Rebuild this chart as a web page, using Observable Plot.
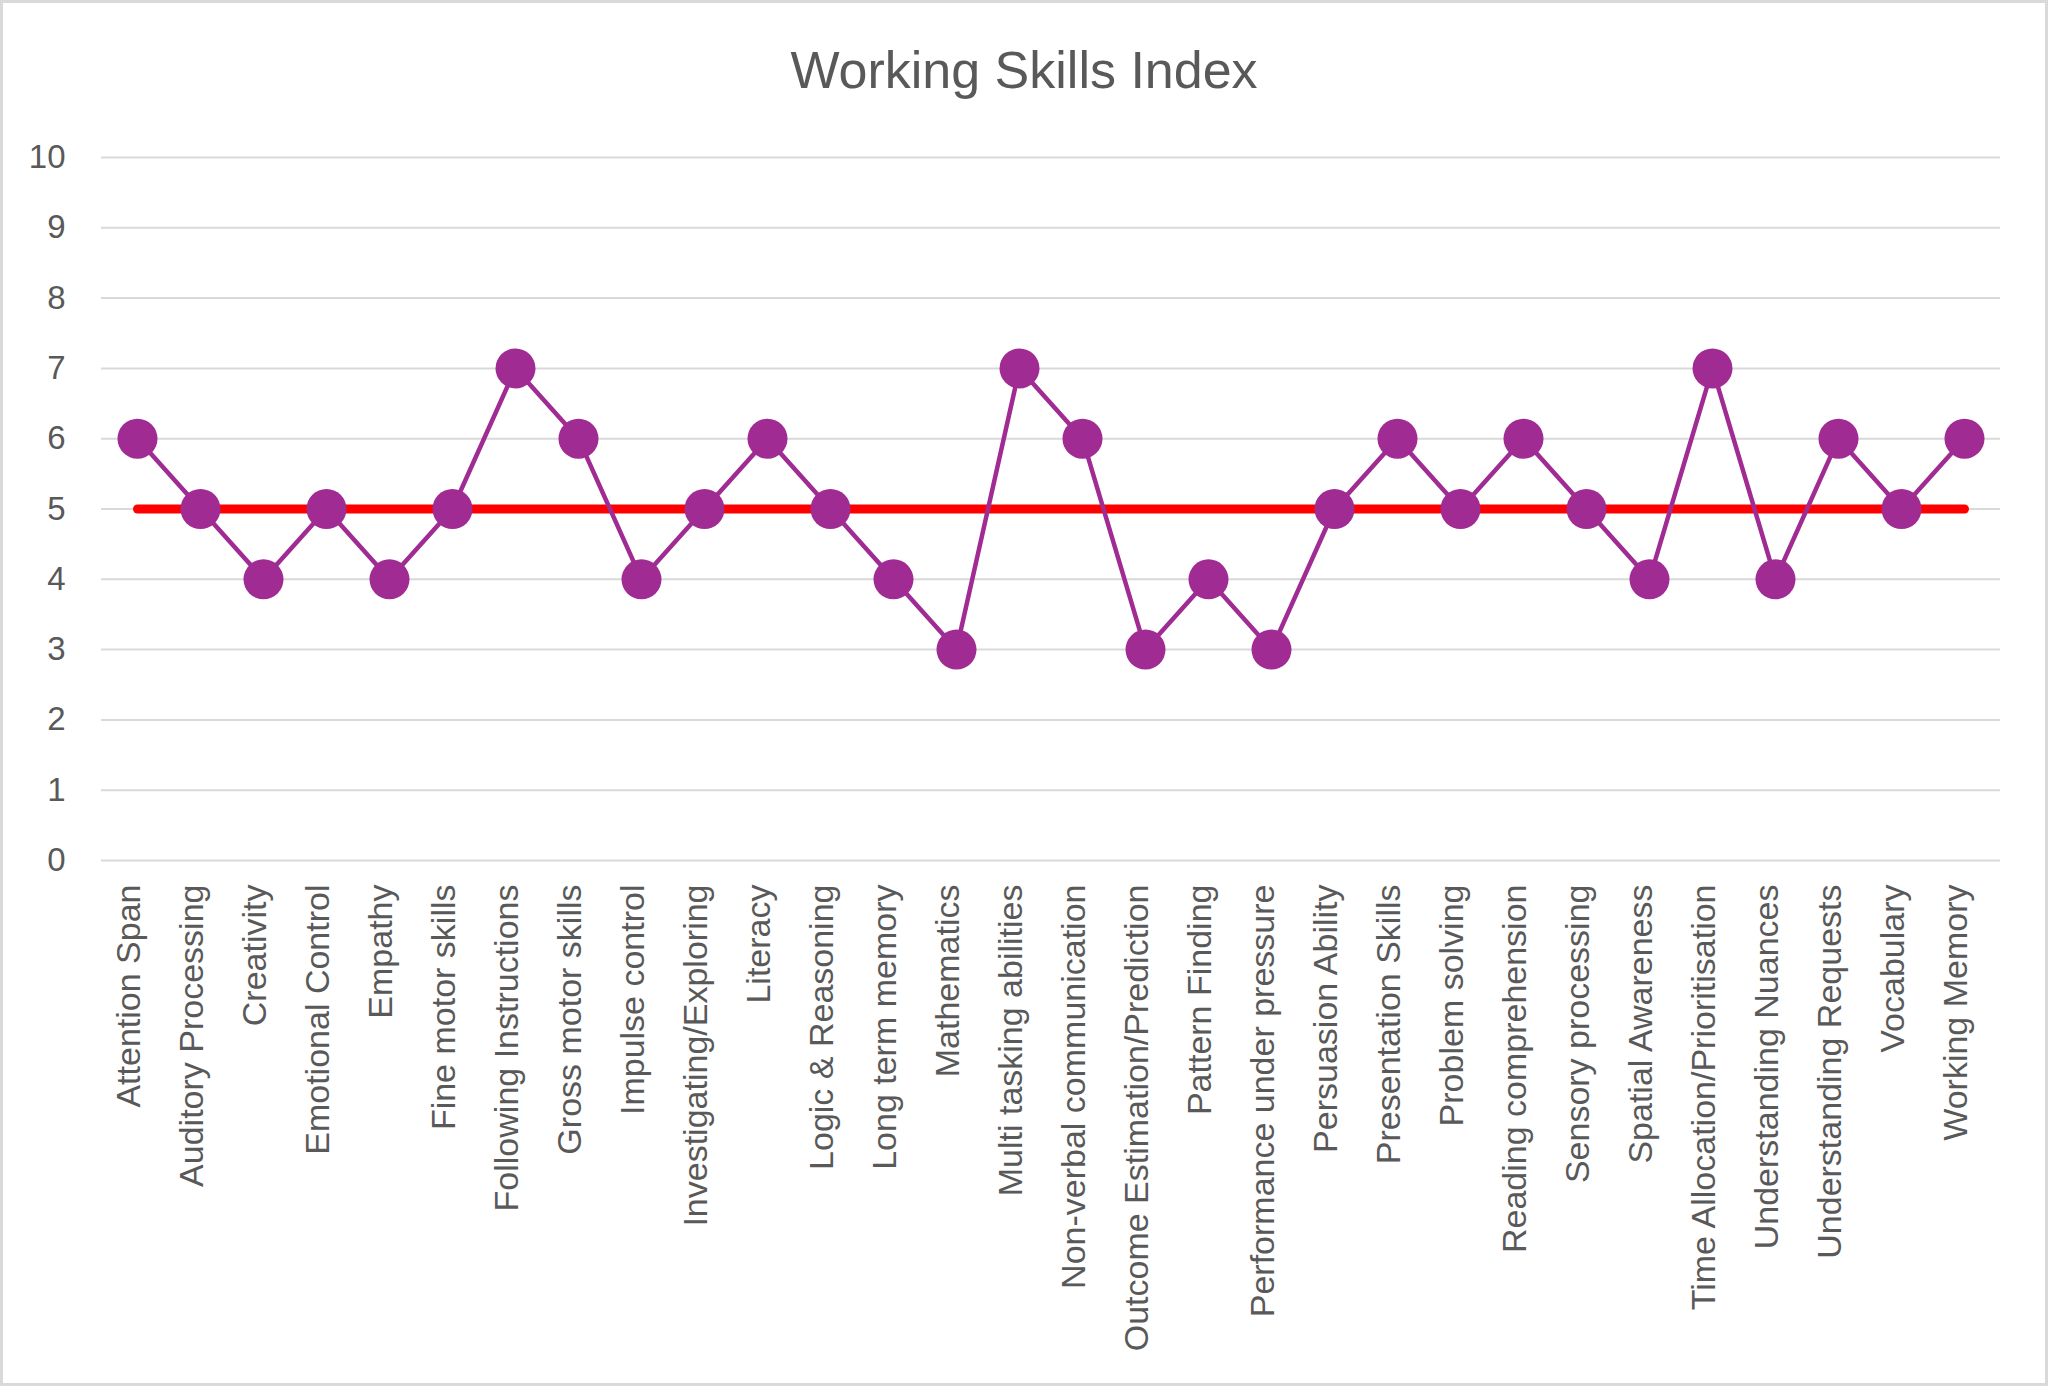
<!DOCTYPE html>
<html>
<head>
<meta charset="utf-8">
<script src="https://cdn.jsdelivr.net/npm/d3@7"></script>
<script src="https://cdn.jsdelivr.net/npm/@observablehq/plot@0.6"></script>
<style>
  html, body { margin: 0; padding: 0; background: #fff; }
  #wrap { position: relative; width: 2048px; height: 1386px; overflow: hidden; font-family: "Liberation Sans", Arial, sans-serif; }
  #border { position: absolute; left: 0; top: 0; width: 2048px; height: 1386px; box-sizing: border-box; border: 3px solid #d9d9d9; pointer-events: none; }
  #title { position: absolute; left: 0; top: 44px; width: 2048px; text-align: center; font-size: 52px; line-height: 52px; color: #595959; }
  #chart { position: absolute; left: 0; top: 110px; }
</style>
</head>
<body>
<div id="wrap">
  <div id="title">Working Skills Index</div>
  <div id="chart"></div>
  <div id="border"></div>
</div>
<script>
const categories = [
  "Attention Span", "Auditory Processing", "Creativity", "Emotional Control", "Empathy",
  "Fine motor skills", "Following Instructions", "Gross motor skills", "Impulse control",
  "Investigating/Exploring", "Literacy", "Logic & Reasoning", "Long term memory", "Mathematics",
  "Multi tasking abilities", "Non-verbal communication", "Outcome Estimation/Prediction",
  "Pattern Finding", "Performance under pressure", "Persuasion Ability", "Presentation Skills",
  "Problem solving", "Reading comprehension", "Sensory processing", "Spatial Awareness",
  "Time Allocation/Prioritisation", "Understanding Nuances", "Understanding Requests",
  "Vocabulary", "Working Memory"
];
const scores = [6, 5, 4, 5, 4, 5, 7, 6, 4, 5, 6, 5, 4, 3, 7, 6, 3, 4, 3, 5, 6, 5, 6, 5, 4, 7, 4, 6, 5, 6];
const benchmark = [5, 5, 5, 5, 5, 5, 5, 5, 5, 5, 5, 5, 5, 5, 5, 5, 5, 5, 5, 5, 5, 5, 5, 5, 5, 5, 5, 5, 5, 5];
const yTicks = [0, 1, 2, 3, 4, 5, 6, 7, 8, 9, 10];

const rows = categories.map((c, i) => ({ skill: c, score: scores[i], bench: benchmark[i] }));

const chart = Plot.plot({
  width: 2048,
  height: 1276,
  marginLeft: 101,
  marginRight: 48,
  marginTop: 47,
  marginBottom: 526,
  style: { fontFamily: "'Liberation Sans', Arial, sans-serif", color: "#595959", background: "transparent", overflow: "visible" },
  x: { type: "point", domain: categories, padding: 0.5, label: null },
  y: { domain: [0, 10], ticks: yTicks, label: null },
  marks: [
    Plot.gridY(yTicks, { stroke: "#d9d9d9", strokeOpacity: 1, strokeWidth: 2 }),
    Plot.axisY(yTicks, { tickSize: 0, tickPadding: 36, fontSize: 33, fill: "#595959", label: null, tickFormat: d3.format("d") }),
    Plot.axisX({ tickSize: 0, tickPadding: 24, tickRotate: -90, fontSize: 34, fill: "#595959", label: null, dx: -8 }),
    Plot.lineY(rows, { x: "skill", y: "bench", stroke: "#ff0000", strokeWidth: 9, strokeLinecap: "round" }),
    Plot.lineY(rows, { x: "skill", y: "score", stroke: "#a02b93", strokeWidth: 4.5 }),
    Plot.dot(rows, { x: "skill", y: "score", r: 20, fill: "#a02b93", stroke: "none" })
  ]
});
document.getElementById("chart").appendChild(chart);
</script>
</body>
</html>
